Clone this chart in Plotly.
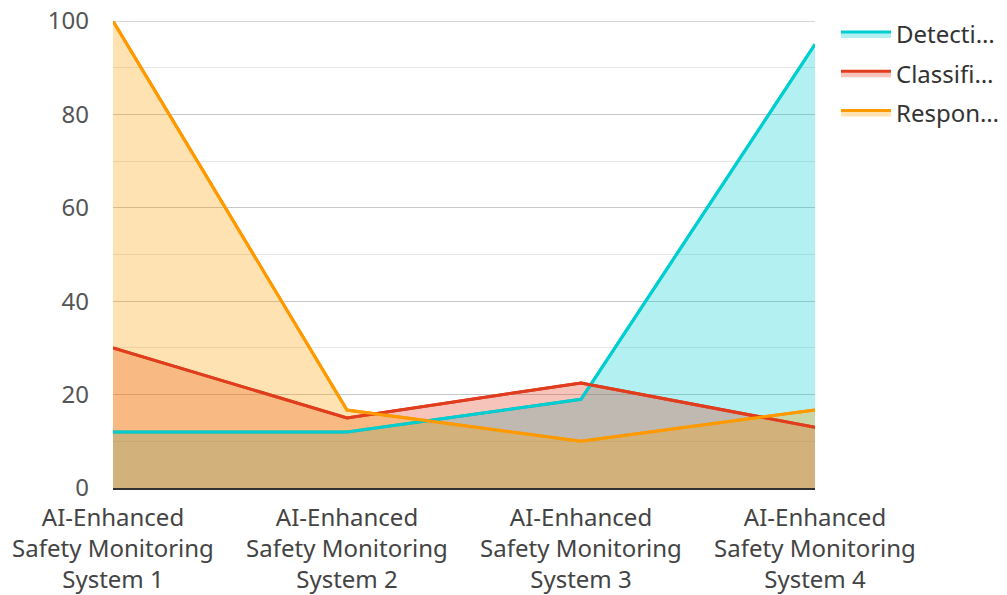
import plotly.graph_objects as go

categories = ["AI-Enhanced<br>Safety Monitoring<br>System 1",
              "AI-Enhanced<br>Safety Monitoring<br>System 2",
              "AI-Enhanced<br>Safety Monitoring<br>System 3",
              "AI-Enhanced<br>Safety Monitoring<br>System 4"]
series_names = ["Detecti…", "Classifi…", "Respon…"]
detection = [12, 12, 19, 95]
classification = [30, 15, 22.5, 13]
response = [100, 16.7, 10, 16.7]
y_ticks = [0, 20, 40, 60, 80, 100]

series_values = [detection, classification, response]
line_colors = ["#00CED1", "#E03C1E", "#FF9900"]
fill_colors = ["rgba(0,206,209,0.3)", "rgba(224,60,30,0.3)", "rgba(255,160,0,0.3)"]

fig = go.Figure()
# fills (with legend entries)
for name, vals, lc, fc in zip(series_names, series_values, line_colors, fill_colors):
    fig.add_trace(go.Scatter(x=categories, y=vals, name=name, mode="lines",
                             fill="tozeroy", fillcolor=fc, legendgroup=name,
                             line=dict(color=lc, width=3)))
# lines on top of all fills
for name, vals, lc in zip(series_names, series_values, line_colors):
    fig.add_trace(go.Scatter(x=categories, y=vals, name=name, mode="lines",
                             legendgroup=name, showlegend=False, hoverinfo="skip",
                             line=dict(color=lc, width=3)))

W, H = 999, 587
fig.update_layout(
    width=W, height=H,
    margin=dict(l=105, r=192, t=13, b=107),
    plot_bgcolor="white", paper_bgcolor="white",
    font=dict(family="Noto Sans", size=24, color="#555"),
    showlegend=True,
    legend=dict(xref="container", yref="container",
                x=828 / W, y=1 - 4 / H, xanchor="left", yanchor="top",
                font=dict(size=24, color="#333"), tracegroupgap=5,
                itemwidth=50),
)
# top grid line at the range edge
fig.add_shape(type="line", xref="x domain", yref="y", x0=0, x1=1,
              y0=y_ticks[-1], y1=y_ticks[-1], layer="below",
              line=dict(color="#c8c8c8", width=1.5))
fig.update_xaxes(range=[0, 3], showgrid=False, showline=True, linecolor="#333",
                 linewidth=2, ticks="", automargin=False, ticklabelstandoff=7,
                 ticklabeloverflow="allow",
                 tickfont=dict(size=24, color="#444"))
fig.update_yaxes(range=[0, 100], tickmode="array", tickvals=y_ticks,
                 showgrid=True, gridcolor="#c8c8c8",
                 gridwidth=1, zeroline=False, automargin=False,
                 ticklabelstandoff=23, ticklabeloverflow="allow",
                 minor=dict(dtick=10, showgrid=True, gridcolor="#e6e6e6"),
                 tickfont=dict(size=24, color="#555"), ticks="")

fig.write_html("out.html")
